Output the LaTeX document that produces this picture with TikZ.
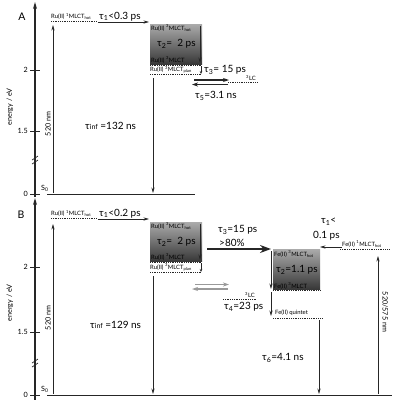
\documentclass[tikz,border=0pt]{standalone}
\usepackage{fontspec}
\setmainfont{Lato}
\usetikzlibrary{arrows.meta}
\begin{document}
\begin{tikzpicture}[x=1pt,y=-1pt,
  small/.style={font=\fontsize{5.9}{6.5}\selectfont, inner sep=0pt},
  taulbl/.style={font=\fontsize{10}{11}\selectfont, inner sep=0pt},
  ticklbl/.style={font=\fontsize{7.2}{8}\selectfont, inner sep=0pt, anchor=east},
  axlbl/.style={font=\fontsize{7.2}{8}\selectfont, inner sep=0pt},
  panel/.style={font=\fontsize{10.5}{11}\selectfont, inner sep=0pt},
  ln/.style={draw=black!85},
  level/.style={ln, dash pattern=on 1pt off 0.8pt, line width=0.8pt},
  arr/.style={ln, -{Stealth[length=5.5pt,width=3.2pt]}, line width=0.8pt},
  bigarr/.style={ln, -{Stealth[length=6pt,width=4pt]}, line width=1.1pt},
  smallarr/.style={ln, -{Stealth[length=3pt,width=2.5pt]}, line width=0.7pt},
  axisline/.style={ln, -{Stealth[length=7pt,width=4pt]}, line width=1.1pt},
  tick/.style={ln, line width=0.9pt},
  brk/.style={ln, line width=0.7pt},
  grd/.style={top color=black!33, middle color=black!17, bottom color=black!78},
]
\useasboundingbox (0,0) rectangle (392,400);

% ================= Panel A =================
\coordinate (A0) at (35,197);
\coordinate (Atop) at (35,2);
\draw[axisline] (A0) -- (Atop);
\draw[tick] (30,70) -- (40,70);
\draw[tick] (30,131) -- (40,131);
\draw[tick] (30,194) -- (40,194);
\node[ticklbl] (Ay2) at (28,70) {2};
\node[ticklbl] (Ay15) at (28,131) {1.5};
\node[ticklbl] (Ay0) at (28,194) {0};
\draw[brk] (32,160) -- (38,156);
\draw[brk] (32,164) -- (38,160);
\node[panel] (labA) at (22,17) {A};
\node[axlbl, rotate=90] (enA) at (10,107) {energy / eV};

\draw[ln, line width=1pt] (47,194) -- (195,194);
\node[axlbl, anchor=south west] (S0A) at (41,192) {S\textsubscript{0}};

\coordinate (exAb) at (53,193);
\coordinate (exAt) at (53,25);
\draw[arr] (exAb) -- (exAt);
\node[axlbl, rotate=90] (nmA) at (48,124) {520 nm};

\node[small, anchor=south west] (RuSA) at (51,20) {Ru(II) \textsuperscript{1}MLCT\textsubscript{hot}};
\draw[level] (51,21) -- (97,21);
\node[taulbl, anchor=south west] (t1A) at (99,21) {τ\textsubscript{1}<0.3 ps};
\coordinate (t1As) at (98,22);
\coordinate (t1Ae) at (149,22);
\draw[arr] (t1As) -- (t1Ae);

\shade[grd] (150,24) rectangle (202,64);
\draw[level] (150,65) -- (202,65);
\node[small, anchor=west] (RuHA) at (151,28) {Ru(II) \textsuperscript{3}MLCT\textsubscript{hot}};
\node[taulbl, anchor=west] (t2A) at (157,44) {τ\textsubscript{2}=\ \ 2 ps};
\node[small, anchor=west] (RuTA) at (151,60) {Ru(II) \textsuperscript{3}MLCT};
\node[small, anchor=west] (RuPA) at (150,70) {Ru(II) \textsuperscript{3}MLCT\textsubscript{plan}};
\draw[level] (150,74.5) -- (202,74.5);
\coordinate (t2As) at (200,26);
\coordinate (t2Ae) at (200,63);
\draw[arr] (t2As) -- (t2Ae);
\coordinate (t3As) at (201,66);
\coordinate (t3Ae) at (201,74);
\draw[smallarr] (t3As) -- (t3Ae);
\node[taulbl, anchor=west] (t3A) at (204,70) {τ\textsubscript{3}= 15 ps};

\draw[level] (228,82) -- (258,82);
\node[small] (LCA) at (251,78) {\textsuperscript{3}LC};
\coordinate (r1A) at (194,80);
\coordinate (r2A) at (229,80);
\draw[bigarr] (r1A) -- (r2A);
\coordinate (l1A) at (228,84.5);
\coordinate (l2A) at (192,84.5);
\draw[bigarr] (l1A) -- (l2A);
\node[taulbl, anchor=west] (t5A) at (195,96) {τ\textsubscript{5}=3.1 ns};

\coordinate (dAs) at (153,78);
\coordinate (dAe) at (153,193);
\draw[arr] (dAs) -- (dAe);
\node[taulbl, anchor=west] (tinfA) at (85,126) {τ{\fontsize{7}{7}\selectfont inf} =132 ns};

% ================= Panel B =================
\coordinate (B0) at (35,400);
\coordinate (Btop) at (35,198);
\draw[axisline] (B0) -- (Btop);
\draw[tick] (30,267) -- (40,267);
\draw[tick] (30,332) -- (40,332);
\draw[tick] (30,395) -- (40,395);
\node[ticklbl] (By2) at (28,267) {2};
\node[ticklbl] (By15) at (28,332) {1.5};
\node[ticklbl] (By0) at (28,395) {0};
\draw[brk] (32,363) -- (38,359);
\draw[brk] (32,367) -- (38,363);
\node[panel] (labB) at (21,215) {B};
\node[axlbl, rotate=90] (enB) at (10,303) {energy / eV};

\draw[ln, line width=1pt] (47,395.5) -- (392,395.5);
\node[axlbl, anchor=south west] (S0B) at (41,393) {S\textsubscript{0}};

\coordinate (exBb) at (53,394);
\coordinate (exBt) at (53,224);
\draw[arr] (exBb) -- (exBt);
\node[axlbl, rotate=90] (nmB) at (48,318) {520 nm};

\node[small, anchor=south west] (RuSB) at (51,217) {Ru(II) \textsuperscript{1}MLCT\textsubscript{hot}};
\draw[level] (51,218) -- (97,218);
\node[taulbl, anchor=south west] (t1B) at (99,218) {τ\textsubscript{1}<0.2 ps};
\coordinate (t1Bs) at (98,219);
\coordinate (t1Be) at (149,219);
\draw[arr] (t1Bs) -- (t1Be);

\shade[grd] (150,222) rectangle (202,261);
\draw[level] (150,262) -- (202,262);
\node[small, anchor=west] (RuHB) at (151,226) {Ru(II) \textsuperscript{3}MLCT\textsubscript{hot}};
\node[taulbl, anchor=west] (t2B) at (157,242) {τ\textsubscript{2}=\ \ 2 ps};
\node[small, anchor=west] (RuTB) at (151,257) {Ru(II) \textsuperscript{3}MLCT};
\node[small, anchor=west] (RuPB) at (150,267.5) {Ru(II) \textsuperscript{3}MLCT\textsubscript{plan}};
\draw[level] (150,272) -- (202,272);
\coordinate (t2Bs) at (200,224);
\coordinate (t2Be) at (200,260);
\draw[arr] (t2Bs) -- (t2Be);
\coordinate (t3Bs) at (201,263);
\coordinate (t3Be) at (201,272);
\draw[smallarr] (t3Bs) -- (t3Be);

\node[taulbl, anchor=west] (t3B) at (218,230) {τ\textsubscript{3}=15 ps};
\node[taulbl, anchor=west] (p80) at (219,243) {>80\%};
\coordinate (thS) at (207,249);
\coordinate (thE) at (271,249);
\draw[ln, -{Stealth[length=11pt,width=8pt]}, line width=2pt] (thS) -- (thE);

\shade[grd] (273,249) rectangle (320,289);
\draw[level] (273,290) -- (320,290);
\node[small, anchor=west] (FeHB) at (274,254) {Fe(II) \textsuperscript{3}MLCT\textsubscript{hot}};
\node[taulbl, anchor=west] (t2F) at (276,270) {τ\textsubscript{2}=1.1 ps};
\node[small, anchor=west] (FeTB) at (274,286) {Fe(II) \textsuperscript{3}MLCT};
\coordinate (t2Fs) at (271,251);
\coordinate (t2Fe) at (271,289);
\draw[arr] (t2Fs) -- (t2Fe);

\draw[level] (223,299.5) -- (257,299.5);
\node[small] (LCB) at (250,295) {\textsuperscript{3}LC};
\coordinate (r1B) at (195,284.5);
\coordinate (r2B) at (229,284.5);
\draw[bigarr, draw=black!40] (r1B) -- (r2B);
\coordinate (l1B) at (228,289);
\coordinate (l2B) at (192,289);
\draw[bigarr, draw=black!40] (l1B) -- (l2B);

\coordinate (t4s) at (271,292);
\coordinate (t4e) at (271,316);
\draw[arr] (t4s) -- (t4e);
\node[taulbl, anchor=west] (t4) at (224,307) {τ\textsubscript{4}=23 ps};
\node[small, anchor=west] (FeQ) at (275,313) {Fe(II) quintet};
\draw[level] (273,318) -- (322,318);

\coordinate (dBs) at (153,276);
\coordinate (dBe) at (153,394);
\draw[arr] (dBs) -- (dBe);
\node[taulbl, anchor=west] (tinfB) at (90,325) {τ{\fontsize{7}{7}\selectfont inf} =129 ns};

\coordinate (dFs) at (319,320);
\coordinate (dFe) at (319,394);
\draw[arr] (dFs) -- (dFe);
\node[taulbl, anchor=west] (t6) at (262,358) {τ\textsubscript{6}=4.1 ns};

\node[small, anchor=west] (FeS) at (342,244) {Fe(II) \textsuperscript{1}MLCT\textsubscript{hot}};
\draw[level] (340,249) -- (390,249);
\coordinate (t1Fs) at (342,247);
\coordinate (t1Fe) at (320,247);
\draw[arr] (t1Fs) -- (t1Fe);
\node[taulbl, anchor=west] (t1F) at (321,222) {τ\textsubscript{1}<};
\node[taulbl, anchor=west] (t1Fb) at (313,236) {0.1 ps};

\coordinate (exFb) at (378,394);
\coordinate (exFt) at (378,256);
\draw[arr] (exFb) -- (exFt);
\node[axlbl, rotate=-90] (nmF) at (385,312) {520/575 nm};
\end{tikzpicture}
\end{document}
